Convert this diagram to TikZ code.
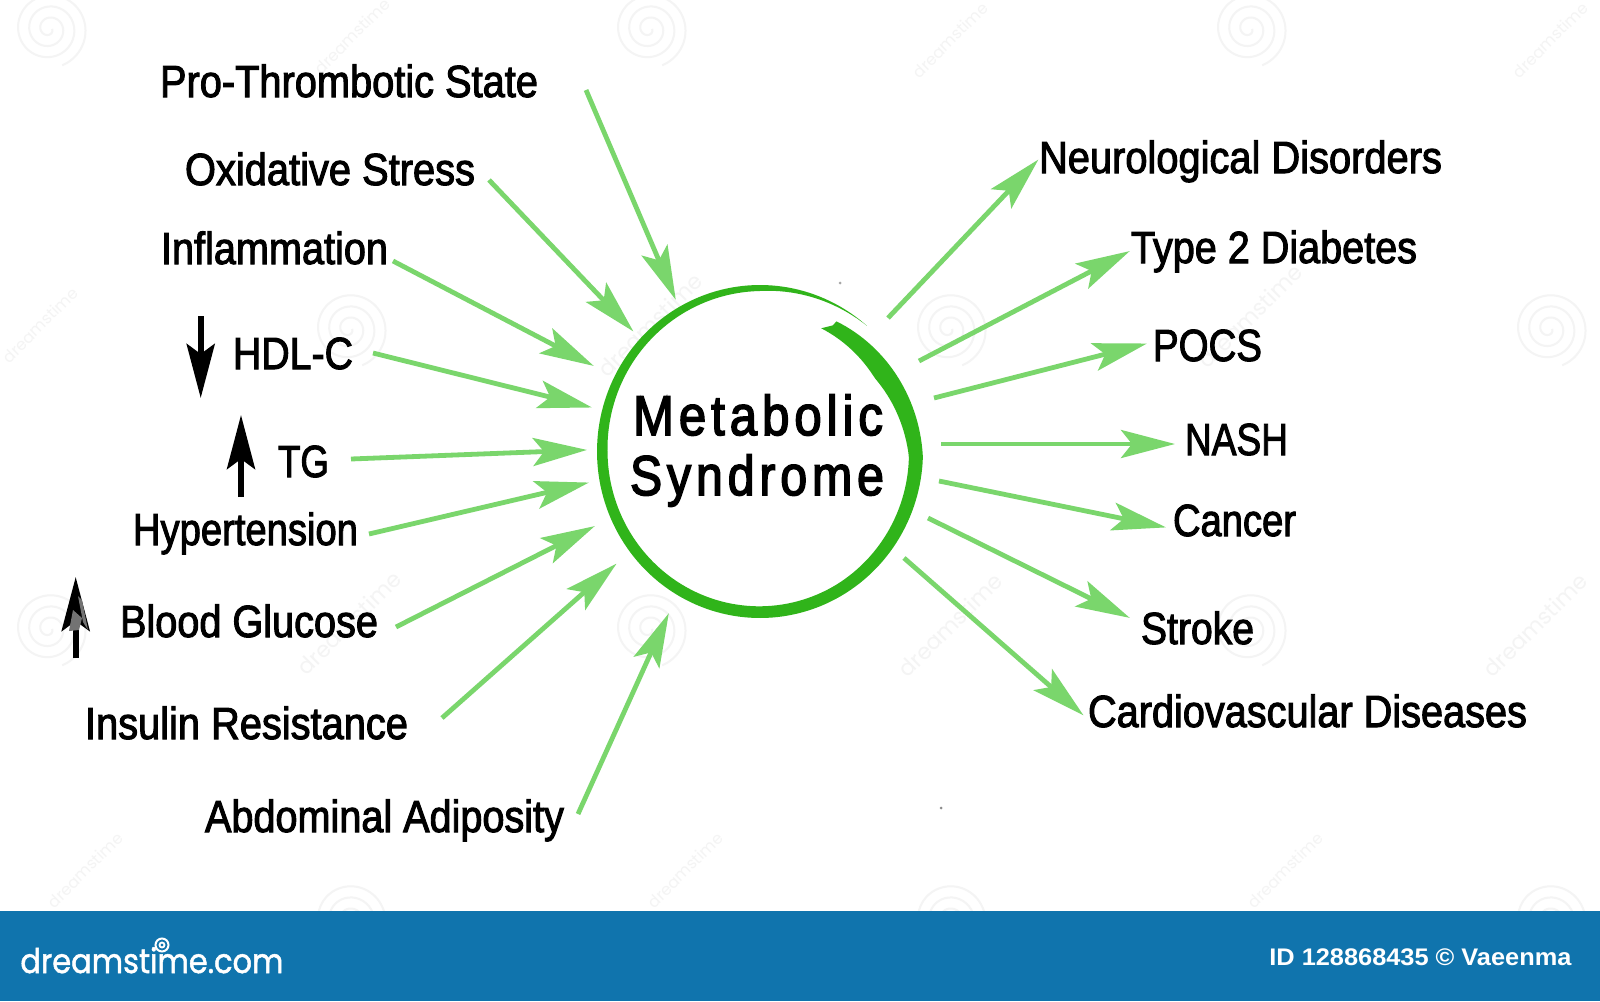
\documentclass[tikz,border=0pt]{standalone}
\usepackage{fontspec}
\usepackage{graphicx}
\setmainfont{Liberation Sans}
\newfontfamily\labfont[FakeBold=2.4]{Liberation Sans}
\newfontfamily\titlefont[FakeBold=3,LetterSpace=10]{Liberation Sans}
\newfontfamily\logofont{Poppins}
\newfontfamily\logoboldfont[FakeBold=1.5]{Poppins}
\usetikzlibrary{arrows.meta}
\definecolor{ringgreen}{HTML}{30B41A}
\definecolor{arrowgreen}{HTML}{7AD66C}
\definecolor{bandblue}{HTML}{1074AD}
\definecolor{wm}{HTML}{F4F4F4}
\newcommand{\fitw}[2]{\resizebox{#1}{\height}{#2}}
\tikzset{
  lab/.style={anchor=base west,inner sep=0pt,outer sep=0pt,font=\labfont\fontsize{22.5}{24}\selectfont,text=black},
  title/.style={anchor=base west,inner sep=0pt,outer sep=0pt,font=\titlefont\fontsize{28}{30}\selectfont,text=black},
  inarrow/.style={draw=arrowgreen,fill=arrowgreen,line width=2.4pt,shorten >=-1pt,-{Stealth[length=27pt,width=14pt,inset=5.5pt]}},
  updown/.style={draw=black,fill=black,line width=3pt,-{Stealth[length=27pt,width=14pt,inset=5pt]}},
  wmtext/.style={inner sep=0pt,rotate=45,text=wm,font=\logofont\fontsize{11}{12}\selectfont},
  wmsmall/.style={inner sep=0pt,rotate=45,text=wm,font=\logofont\fontsize{8}{9}\selectfont},
  wmspiral/.style={draw=wm,line width=1pt},
  declare function={
    sp(\t)=max(0,0.24*(\t-358));
    wd(\t)=6*min(\t-49,41)/41+4.5*max(0,min(\t-90,90))/90+1.6*max(0,min(\t-180,120))/120+1.9*max(0,min(\t-300,58))/58+5.6*max(0,min(\t-358,34))/34-7*max(0,\t-392)/31;
  }
}
\begin{document}
\begin{tikzpicture}[x=0.5pt,y=-0.5pt]
\useasboundingbox (0,0) rectangle (1600,1001);
\fill[white] (0,0) rectangle (1600,1001);
% watermark
\foreach \cx/\cy in {49/29,649/29,1249/29,349/329,949/329,1549/329,49/629,649/629,1249/629,349/920,949/920,1549/920}{
  \draw[wmspiral,domain=0:1150,samples=120,smooth,variable=\t] plot ({\cx+(3+\t*0.031)*cos(\t)},{\cy+(3+\t*0.031)*sin(\t)});
}
\foreach \cx/\cy in {650/325,1250/316,349/623,950/625,1535/625}{
  \node[wmtext] (wm\cx\cy) at (\cx,\cy) {dreamstime};
}
\foreach \cx/\cy in {352/36,950/40,1550/40,40/325,85/870,685/870,1285/870}{
  \node[wmsmall] (wn\cx\cy) at (\cx,\cy) {dreamstime};
}
% band
\fill[bandblue] (0,911) rectangle (1600,1001);
% ring
\begin{scope}[shift={(760,451.5)},y=0.5pt]
\fill[ringgreen] plot[domain=49:419,samples=190,variable=\t] ({(163-sp(\t))*cos(\t)},{(166.5-sp(\t))*sin(\t)})
  -- (420:145.6)
  -- plot[domain=423:49,samples=190,variable=\t] ({(163-sp(\t)-wd(\t))*cos(\t)},{(166.5-sp(\t)-wd(\t))*sin(\t)}) -- cycle;
\end{scope}
% specks
\fill[black!35] (840,283) circle (1.5);
\fill[black!45] (941,808) circle (1.5);
% centre title
\node[title] (mtitle) at (633,435) {\fitw{125pt}{Metabolic}};
\node[title] (stitle) at (630,495) {\fitw{127pt}{Syndrome}};
% labels
\node[lab] (a1) at (160,97) {\fitw{189pt}{Pro-Thrombotic State}};
\node[lab] (a2) at (185,185) {\fitw{145pt}{Oxidative Stress}};
\node[lab] (a3) at (161,264) {\fitw{113.5pt}{Inflammation}};
\node[lab] (a4) at (233,369) {\fitw{60pt}{HDL-C}};
\node[lab] (a5) at (278,477) {\fitw{25.5pt}{TG}};
\node[lab] (a6) at (133,545) {\fitw{112.5pt}{Hypertension}};
\node[lab] (a7) at (120,637) {\fitw{129pt}{Blood Glucose}};
\node[lab] (a8) at (85,739) {\fitw{161.5pt}{Insulin Resistance}};
\node[lab] (a9) at (205,832) {\fitw{179.5pt}{Abdominal Adiposity}};
\node[lab] (b1) at (1039,173) {\fitw{201.5pt}{Neurological Disorders}};
\node[lab] (b2) at (1131,263) {\fitw{143pt}{Type 2 Diabetes}};
\node[lab] (b3) at (1153,361) {\fitw{54.5pt}{POCS}};
\node[lab] (b4) at (1185,455) {\fitw{51.5pt}{NASH}};
\node[lab] (b5) at (1173,536) {\fitw{61.5pt}{Cancer}};
\node[lab] (b6) at (1141,644) {\fitw{56.5pt}{Stroke}};
\node[lab] (b7) at (1088,727) {\fitw{219.5pt}{Cardiovascular Diseases}};
% connector ends
\foreach \n/\x/\y in {as1/586/90,at1/675/298,as2/489/180,at2/632/330,as3/393/261,at3/592/365,as4/373/353,at4/590/407,as5/351/459,at5/585/450,as6/369/534,at6/587/483,as7/396/627,at7/593/527,as8/442/718,at8/615/565,as9/578/814,at9/668/615,
  bs1/888/318,bt1/1037/161,bs2/919/361,bt2/1128/252,bs3/934/398,bt3/1145/344,bs4/941/444,bt4/1173/444,bs5/939/481,bt5/1164/527,bs6/928/518,bt6/1128/617,bs7/904/558,bt7/1082/714,
  us1/200.7/316,ut1/200.7/398,us2/241/497,ut2/241/415,us3/75.7/658,ut3/75.7/577}{
  \coordinate (\n) at (\x,\y);
}
\foreach \i in {1,...,9}{\draw[inarrow] (as\i) -- (at\i);}
\foreach \i in {1,...,7}{\draw[inarrow] (bs\i) -- (bt\i);}
\foreach \i in {1,2,3}{\draw[updown] (us\i) -- (ut\i);}
% grey streaks of the watermark over the third black arrow
\fill[black!55] (69,631) -- (73,610) -- (82,618) -- (79,630) -- cycle;
\fill[black!55] (78,596) -- (82,600) -- (88,630) -- (83,622) -- cycle;
% footer
\node[inner sep=0pt,anchor=base west,text=white,font=\logoboldfont\fontsize{17}{19}\selectfont] (logo) at (20,973) {\fitw{131.5pt}{dreamstime.com}};
\draw[white,line width=1pt] (162,945) circle (6.5);
\draw[white,line width=0.9pt] (162,945) circle (2.5);
\node[inner sep=0pt,anchor=base west,text=white,font=\bfseries\fontsize{12}{14}\selectfont] (idtxt) at (1269,965) {\fitw{151pt}{ID 128868435 © Vaeenma}};
\end{tikzpicture}
\end{document}
